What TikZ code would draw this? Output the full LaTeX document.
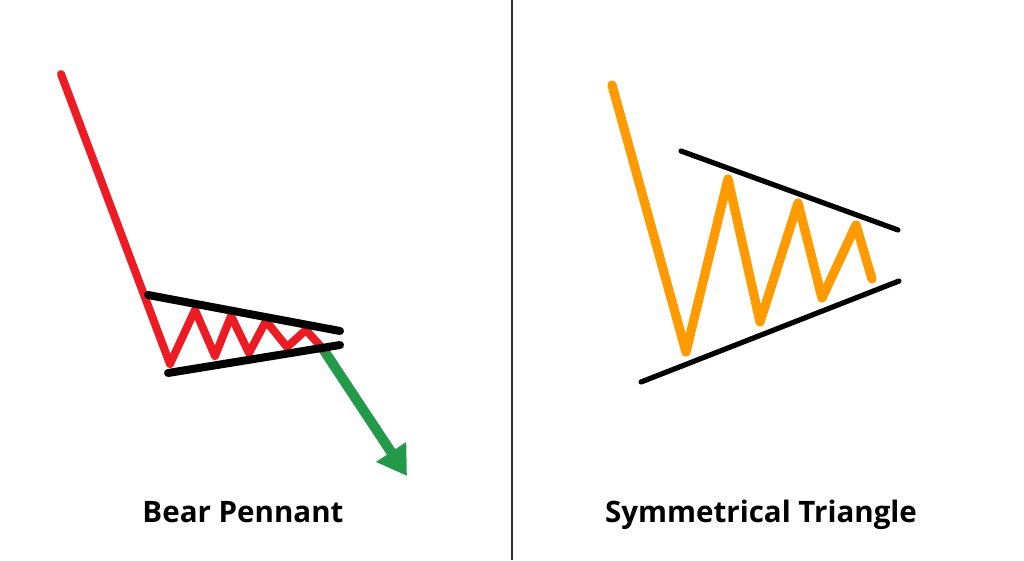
\documentclass[tikz,border=0pt]{standalone}
\usepackage{fontspec}
\setmainfont{Open Sans}
\usepackage{tikz}
\usetikzlibrary{arrows.meta,positioning}
\definecolor{bear_red}{HTML}{ED1C24}
\definecolor{break_green}{HTML}{23994A}
\definecolor{tri_orange}{HTML}{FF9A00}
\tikzset{
price_line/.style={line width=0.2cm, line cap=round, line join=round},
trend_line/.style={line width=0.2cm, line cap=round, color=black},
thin_trend/.style={line width=0.13cm, line cap=round, color=black},
caption/.style={font=\bfseries\fontsize{21}{25}\selectfont, text=black, inner sep=0pt, anchor=base}
}

\begin{document}
\begin{tikzpicture}[x=0.025cm, y=-0.025cm]
    \useasboundingbox[fill=white] (0,0) rectangle (1024,560);
    % divider
    \draw[line width=0.05cm, color=black!80] (512,0) -- (512,560);
    % bear pennant
    \coordinate (bp_start) at (61,74);
    \coordinate (bp_low) at (170,364);
    \coordinate (bp_end) at (323,349);
    \coordinate (bp_tip) at (407,476);
    \draw[break_green, line width=0.25cm, -{Triangle[length=0.72cm, width=0.85cm]}] (bp_end) -- (bp_tip);
    \draw[price_line, bear_red] (bp_start) -- (bp_low) -- (195,310) -- (215,356) -- (231,316)
        -- (249,353) -- (266,321) -- (287,347) -- (306,330) -- (bp_end);
    \draw[trend_line] (148,295) -- (340,331);
    \draw[trend_line] (168,373) -- (340,345);
    \node[caption] (bp_label) at (243,522) {Bear Pennant};
    % symmetrical triangle
    \coordinate (st_start) at (612,85);
    \coordinate (st_end) at (872,279);
    \draw[price_line, tri_orange, line width=0.23cm] (st_start) -- (686,352) -- (728,179) -- (760,322)
        -- (798,203) -- (822,298) -- (856,225) -- (st_end);
    \draw[thin_trend] (681,151) -- (898,230);
    \draw[thin_trend] (641,382) -- (899,281);
    \node[caption] (st_label) at (761,522) {Symmetrical Triangle};
\end{tikzpicture}
\end{document}
